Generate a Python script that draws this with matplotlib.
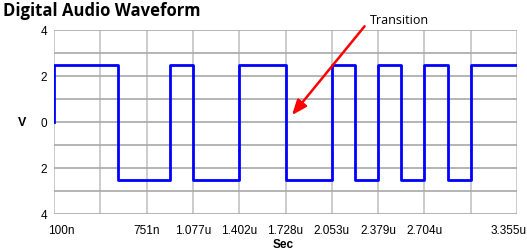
import numpy as np
import matplotlib
matplotlib.use('Agg')
import matplotlib.pyplot as plt
from matplotlib.transforms import ScaledTranslation

# edge times (ns) of the square wave and the level after each edge
edge_t = [100, 100, 550, 914, 1077, 1402, 1728, 2053, 2216, 2379, 2541, 2704, 2867, 3030, 3355]
edge_v = [0, 2.5, -2.5, 2.5, -2.5, 2.5, -2.5, 2.5, -2.5, 2.5, -2.5, 2.5, -2.5, 2.5, 2.5]

grid_t = [100, 425.5, 751, 1077, 1402, 1728, 2053, 2379, 2704, 3030, 3355]
tick_t = [100, 751, 1077, 1402, 1728, 2053, 2379, 2704, 3355]
tick_lbl = ['100n', '751n', '1.077u', '1.402u', '1.728u', '2.053u', '2.379u', '2.704u', '3.355u']
ytick_v = [4, 2, 0, -2, -4]
ytick_lbl = ['4', '2', '0', '2', '4']

fig = plt.figure(figsize=(5.27, 2.53), dpi=100)
ax = fig.add_axes([54 / 527, 1 - 215 / 253, 463 / 527, 184 / 253])

ax.set_xlim(grid_t[0], grid_t[-1])
ax.set_ylim(-4, 4)

for g in grid_t:
    ax.axvline(g, color='#c4c4c4', lw=1.2, zorder=1)
for v in np.arange(-4, 5, 1):
    ax.axhline(v, color='#a8a8a8', lw=1.2, zorder=1)

ax.step(edge_t, edge_v, where='post', color='#0000ff', lw=2, zorder=3)

for s in ax.spines.values():
    s.set_visible(False)
ax.tick_params(length=0, labelsize=8.5)
ax.tick_params(axis='x', pad=7)
ax.tick_params(axis='y', pad=5)
ax.set_xticks(tick_t)
ax.set_xticklabels(tick_lbl, family='Liberation Sans')
ax.set_yticks(ytick_v)
ax.set_yticklabels(ytick_lbl, family='Liberation Sans')

# keep the end labels inside the figure, like the reference
xl = ax.get_xticklabels()
xl[0].set_transform(xl[0].get_transform() + ScaledTranslation(7 / 100, 0, fig.dpi_scale_trans))
xl[-1].set_transform(xl[-1].get_transform() + ScaledTranslation(-8 / 100, 0, fig.dpi_scale_trans))

fig.text(22 / 527, 1 - 123 / 253, 'V', ha='center', va='center', fontsize=9,
         fontweight='bold', family='Liberation Sans')
fig.text(283 / 527, 1 - 245 / 253, 'Sec', ha='center', va='center', fontsize=8.5,
         fontweight='bold', family='Liberation Sans')
fig.text(3 / 527, 1 - 11 / 253, 'Digital Audio Waveform', ha='left', va='center',
         fontsize=12, fontweight='bold', family='Open Sans')

ax.annotate('Transition', xy=(100 + (292 - 54) / 46.3 * 325.5, 0.3),
            xytext=(100 + (370 - 54) / 46.3 * 325.5, 4.45), textcoords='data',
            ha='left', va='center', fontsize=9, family='Open Sans',
            annotation_clip=False,
            arrowprops=dict(arrowstyle='-|>,head_length=1.0,head_width=0.4',
                            color='#ff0000', lw=1.8, shrinkA=3, shrinkB=0,
                            relpos=(0, 0.5)))

plt.savefig('out.png', dpi=100)
